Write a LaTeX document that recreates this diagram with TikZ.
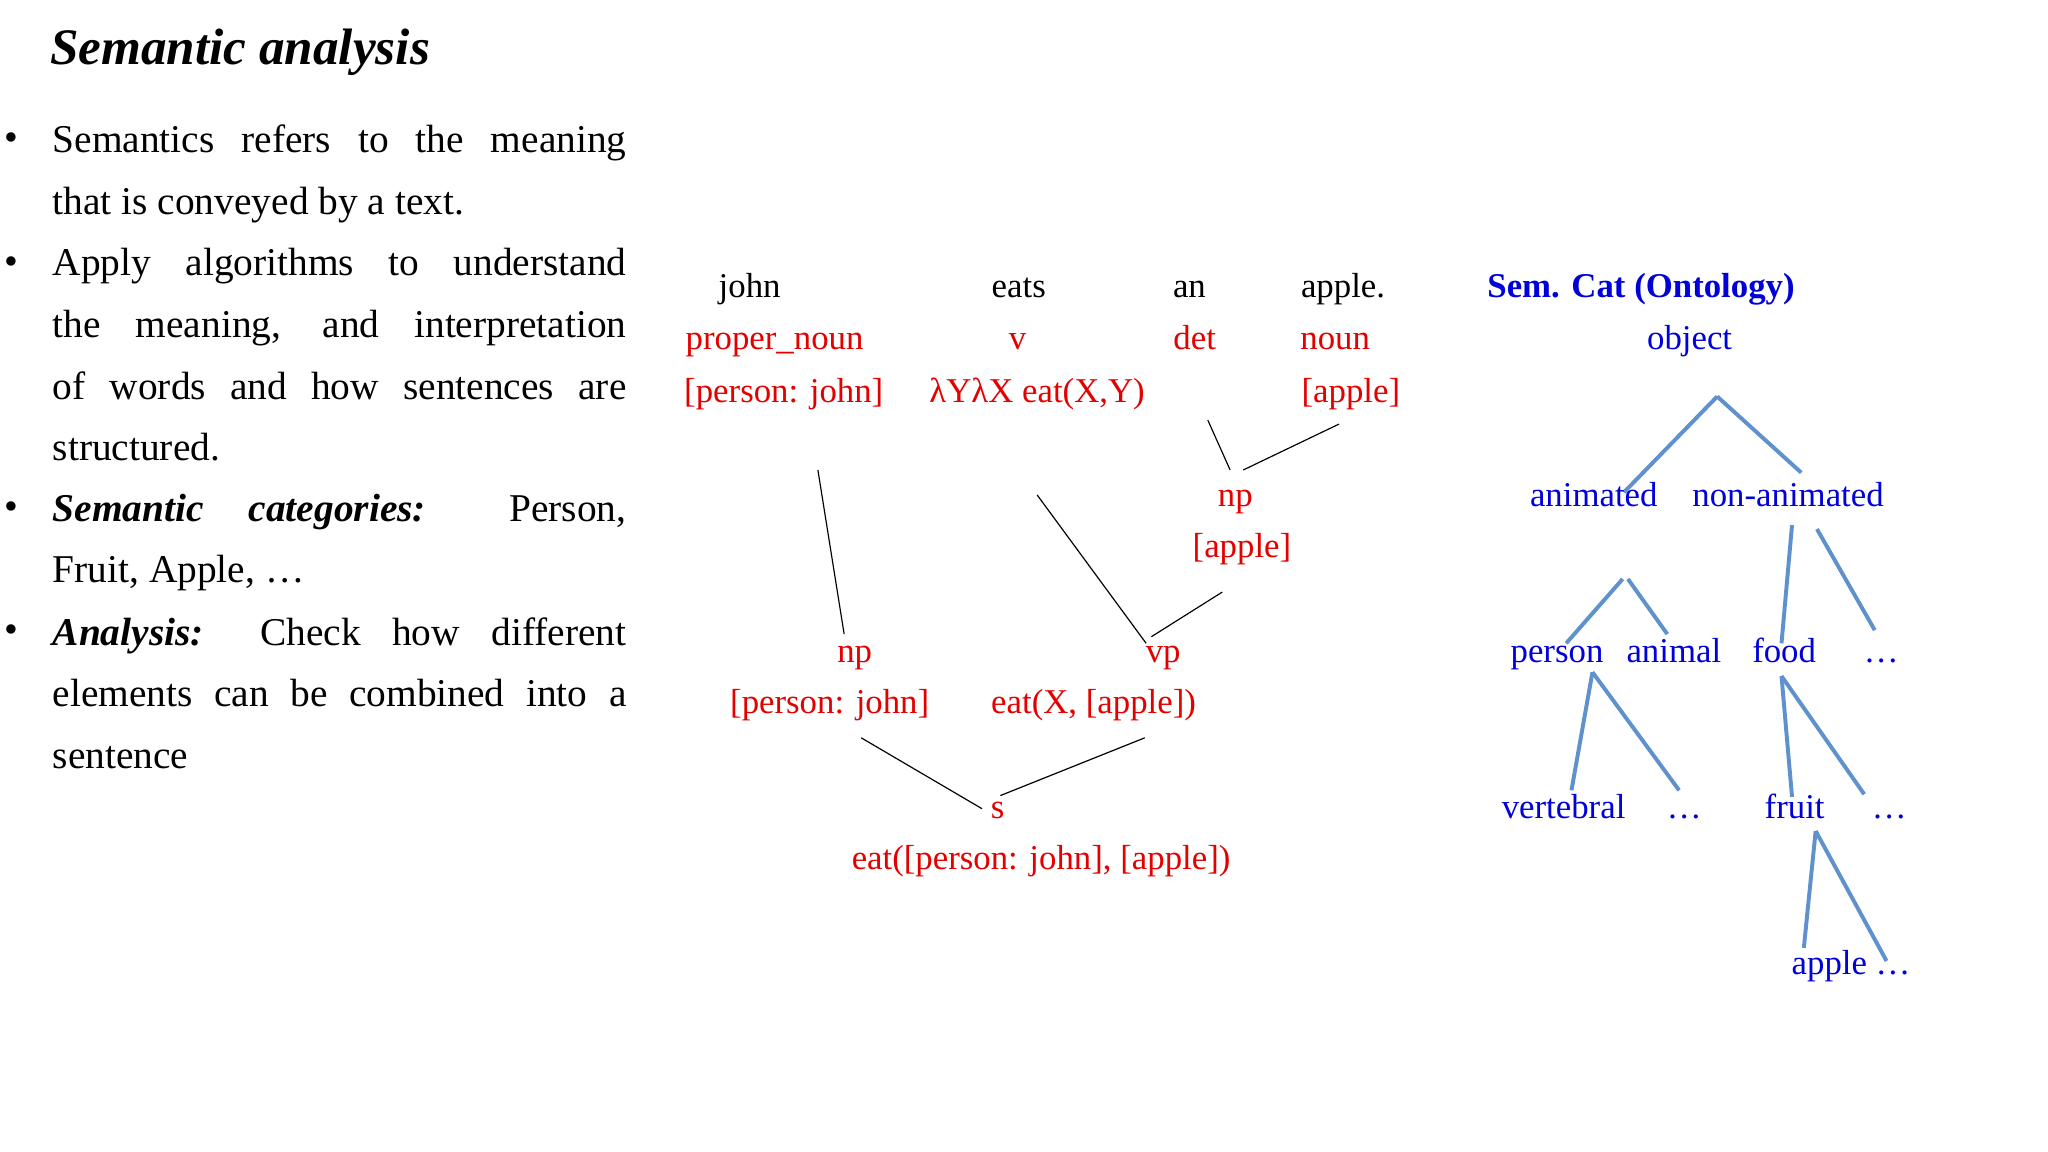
\documentclass[tikz,border=0pt]{standalone}
\usepackage{fontspec}
\setmainfont{Liberation Serif}
\begin{document}
\begin{tikzpicture}[x=1pt,y=-1pt,
  body/.style={anchor=north west,inner sep=0pt,text width=437pt,align=justify,font=\fontsize{30}{47}\selectfont},
  bul/.style={anchor=center,inner sep=0pt,font=\fontsize{30}{47}\selectfont},
  lbl/.style={font=\fontsize{26.5}{30}\selectfont,inner sep=1pt,text height=17pt,text depth=6pt},
  rd/.style={lbl,text=red!90!black},
  bk/.style={lbl,text=black},
  bl/.style={lbl,text=blue!85!black},
  tl/.style={draw=black,line width=0.9pt},
  ol/.style={draw={rgb,255:red,95;green,145;blue,205},line width=3pt}]
\useasboundingbox (0,0) rectangle (1560,877);
\fill[white] (0,0) rectangle (1560,877);
\node[anchor=west,inner sep=0pt,font=\fontsize{39}{40}\selectfont\bfseries\itshape] (title) at (38,40) {Semantic analysis};
\foreach \y/\n in {108/b1,202/b2,389/b3,483/b4} \node[bul] (\n) at (9,\y) {•};
\node[body] (p1) at (40,95) {Semantics refers to the meaning\linebreak that is conveyed by a text.};
\node[body] (p2) at (40,189) {Apply algorithms to understand\linebreak the meaning, and interpretation\linebreak of words and how sentences are\linebreak structured.};
\node[body] (p3) at (40,376) {\textbf{\textit{Semantic categories:}} Person,\linebreak Fruit, Apple, \dots};
\node[body] (p4) at (40,470) {\textbf{\textit{Analysis:}} Check how different\linebreak elements can be combined into a\linebreak sentence};
% parse tree
\node[bk] (w1) at (571,221) {john};
\node[bk] (w2) at (776,221) {eats};
\node[bk] (w3) at (906,221) {an};
\node[bk] (w4) at (1023,221) {apple.};
\node[rd] (c1) at (590,261) {proper\_noun};
\node[rd] (c2) at (775,261) {v};
\node[rd] (c3) at (910,261) {det};
\node[rd] (c4) at (1017,261) {noun};
\node[rd] (s1) at (597,301) {[person: john]};
\node[rd] (s2) at (790,301) {λYλX eat(X,Y)};
\node[rd] (s4) at (1029,301) {[apple]};
\node[rd] (np2) at (941,380) {np};
\node[rd] (np2s) at (946,419) {[apple]};
\node[rd] (np1) at (651,499) {np};
\node[rd] (np1s) at (632,538) {[person: john]};
\node[rd] (vp) at (886,499) {vp};
\node[rd] (vps) at (833,538) {eat(X, [apple])};
\node[rd] (s) at (760,618) {s};
\node[rd] (ss) at (793,657) {eat([person: john], [apple])};
\draw[tl] (920,320) -- (937,358);
\draw[tl] (947,358) -- (1020,323);
\draw[tl] (623,358) -- (643,483);
\draw[tl] (790,377) -- (873,490);
\draw[tl] (877,485) -- (931,451);
\draw[tl] (656,562) -- (748,616);
\draw[tl] (762,606) -- (872,562);
% ontology
\node[bl,font=\fontsize{26.5}{30}\selectfont\bfseries] (sc) at (1250,221) {Sem. Cat (Ontology)};
\node[bl] (obj) at (1287,261) {object};
\draw[ol] (1308,302) -- (1237,375);
\draw[ol] (1308,302) -- (1372,360);
\node[bl] (an) at (1214,380) {animated};
\node[bl] (na) at (1362,380) {non-animated};
\draw[ol] (1365,400) -- (1357,490);
\draw[ol] (1384,403) -- (1428,480);
\draw[ol] (1236,441) -- (1193,490);
\draw[ol] (1240,441) -- (1270,483);
\node[bl] (pe) at (1186,499) {person};
\node[bl] (am) at (1275,499) {animal};
\node[bl] (fo) at (1359,499) {food};
\node[bl] (d1) at (1433,499) {\dots};
\draw[ol] (1213,512) -- (1197,602);
\draw[ol] (1213,512) -- (1279,602);
\draw[ol] (1357,515) -- (1365,607);
\draw[ol] (1357,515) -- (1420,605);
\node[bl] (ve) at (1191,618) {vertebral};
\node[bl] (d2) at (1283,618) {\dots};
\node[bl] (fr) at (1367,618) {fruit};
\node[bl] (d3) at (1439,618) {\dots};
\draw[ol] (1383,633) -- (1374,722);
\draw[ol] (1383,633) -- (1437,732);
\node[bl] (ap) at (1410,737) {apple \dots};
\end{tikzpicture}
\end{document}
